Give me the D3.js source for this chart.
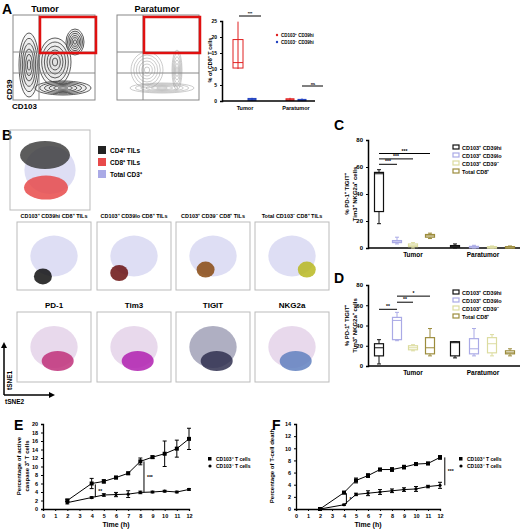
<!DOCTYPE html><html><head><meta charset="utf-8"><script src="https://cdn.jsdelivr.net/npm/d3@7"></script>
<style>body{margin:0;background:#fff}text{font-family:Arial,"Liberation Sans",sans-serif}</style></head><body><svg id="s" width="520" height="529"></svg>
<script>
const times=[2,4,5,6,7,8,9,10,11,12];
const eP=[2,6,6.5,7.4,8.4,11.2,12.2,13,14.2,16.5], eEP=[0.3,1.2,0.4,0.3,0.3,0.8,0.3,3,2,2.5];
const eN=[1.5,2.7,3.3,3.4,3.5,3.9,4,4.2,4,4.6], eEN=[0.3,0.2,0.3,0.5,0.8,0.3,0.2,0.2,0.2,0.2];
const fP=[0,2.7,4.7,5.5,6.5,6.5,6.9,7.4,7.5,8.5], fEP=[0,0.2,0.4,0.3,0.2,0.3,0.3,0.2,0.2,0.3];
const fN=[0,0.7,2.4,2.6,2.8,3,3.2,3.3,3.7,3.9], fEN=[0,0.1,0.2,0.4,0.4,0.3,0.3,0.4,0.2,0.5];
const groups=["Tumor","Paratumor"];
const boxSeries=["CD103⁺ CD39hi","CD103⁺ CD39lo","CD103⁺ CD39⁻","Total CD8⁺"];
const boxColors=["#111","#aaaae6","#dcdca0","#9c8c3c"];
// [min,q1,med,q3,max]
const cBox=[[18,27,55,56,58],[3,4,4.5,5.5,8],[0,1,2,3,4],[7,8,9,10,11],[0,0.5,1,1.8,3],[0,0.4,0.8,1.2,2],[0,0.3,0.6,1,1.5],[0,0.4,0.7,1,1.5]];
const dBox=[[2,10,18,22,26],[25,26,45,48,53],[15,16,18,20,21],[10,12,18,28,37],[8,10,23,24,24],[10,12,17,27,37],[10,13,22,28,31],[10,12,13,15,17]];
const aBox=[[10,10.3,12,19.2,24.8],[0,0.2,0.5,0.8,1],[0,0.2,0.4,0.7,1],[0,0.1,0.3,0.5,0.8]];
const aCols=["#e02020","#2040c0","#e02020","#2040c0"];
const svg=d3.select("#s");
svg.append("defs").html('<marker id="ar" viewBox="0 0 10 10" refX="5" refY="5" markerWidth="4" markerHeight="4" orient="auto"><path d="M0,0L10,5L0,10z"/></marker>');
const lab=(x,y,t)=>svg.append("text").attr("x",x).attr("y",y).attr("font-size",14).attr("font-weight","bold").text(t);
lab(2,14,"A");lab(2,140,"B");lab(334,130,"C");lab(334,283,"D");lab(14,430,"E");lab(272,430,"F");
function txt(x,y,t,fs,o={}){const e=svg.append("text").attr("x",x).attr("y",y).attr("font-size",fs).attr("font-weight",o.w||"bold").attr("text-anchor",o.a||"start").attr("fill",o.c||"#000").text(t);if(o.r)e.attr("transform",`rotate(-90,${x},${y})`);return e;}
// A flow plots
function flow(x0,dense){const g=svg.append("g");
 g.append("rect").attr("x",x0).attr("y",15).attr("width",82).attr("height",85).attr("fill","none").attr("stroke","#888");
 const cs=dense?[[x0+16,65,10,32],[x0+42,62,16,24],[x0+62,42,9,13],[x0+50,88,28,7]]:[[x0+30,70,16,18],[x0+45,88,32,5],[x0+60,70,5,20]];
 cs.forEach(c=>{for(let k=6;k>0;k--)g.append("ellipse").attr("cx",c[0]).attr("cy",c[1]).attr("rx",c[2]*k/6).attr("ry",c[3]*k/6).attr("fill",dense?"#ddd":"none").attr("fill-opacity",0.3).attr("stroke",dense?"#333":"#999").attr("stroke-width",dense?0.8:0.5);});
 g.append("line").attr("x1",x0+26).attr("x2",x0+26).attr("y1",15).attr("y2",100).attr("stroke","#888");
 g.append("line").attr("x1",x0).attr("x2",x0+82).attr("y1",52).attr("y2",52).attr("stroke","#888");
 g.append("line").attr("x1",x0).attr("x2",x0+82).attr("y1",73).attr("y2",73).attr("stroke","#888");
 g.append("rect").attr("x",x0+27).attr("y",17).attr("width",56).attr("height",36).attr("fill","none").attr("stroke","#e01010").attr("stroke-width",2.5);}
flow(13,true);flow(117,false);
txt(45,12,"Tumor",9,{a:"middle"});txt(157,12,"Paratumor",9,{a:"middle"});
txt(12,100,"CD39",8,{r:1});txt(12,109,"CD103",8);
// A box
{const y=d3.scaleLinear([0,25],[101,21]);const g=svg.append("g").attr("transform","translate(222,0)");
 g.call(d3.axisLeft(y).ticks(5).tickSize(2)).call(a=>a.selectAll("text").attr("font-size",5).attr("font-weight","bold")).call(a=>a.select(".domain").attr("stroke-width",1.5));
 const xs=[238,252,290,302];
 aBox.forEach((b,i)=>{const x=xs[i],w=i==0?10:8,c=aCols[i];
  svg.append("line").attr("x1",x).attr("x2",x).attr("y1",y(b[0])).attr("y2",y(b[4])).attr("stroke",c);
  svg.append("rect").attr("x",x-w/2).attr("y",y(b[3])).attr("width",w).attr("height",Math.max(1,y(b[1])-y(b[3]))).attr("fill","none").attr("stroke",c);
  svg.append("line").attr("x1",x-w/2).attr("x2",x+w/2).attr("y1",y(b[2])).attr("y2",y(b[2])).attr("stroke",c);});
 svg.append("line").attr("x1",222).attr("x2",315).attr("y1",101).attr("y2",101).attr("stroke","#000").attr("stroke-width",1.5);
 txt(245,110,"Tumor",5.5,{a:"middle"});txt(296,110,"Paratumor",5.5,{a:"middle"});
 svg.append("line").attr("x1",239).attr("x2",261).attr("y1",16).attr("y2",16).attr("stroke","#000");txt(250,15,"***",4,{a:"middle"});
 svg.append("line").attr("x1",302).attr("x2",323).attr("y1",86).attr("y2",86).attr("stroke","#000");txt(313,85,"ns",4,{a:"middle"});
 txt(212,60,"% of CD8⁺ T cells",5.5,{r:1,a:"middle"});
 svg.append("circle").attr("cx",277).attr("cy",35).attr("r",1.2).attr("fill","#e02020");txt(281,37,"CD103⁺ CD39hi",4.5);
 svg.append("circle").attr("cx",277).attr("cy",42).attr("r",1.2).attr("fill","#2040c0");txt(281,44,"CD103⁻ CD39hi",4.5);}
// B tSNE
function tsne(x0,y0,w,h,title,hl,tfs){svg.append("rect").attr("x",x0).attr("y",y0).attr("width",w).attr("height",h).attr("fill","none").attr("stroke","#bbb");
 if(title)txt(x0+w/2,y0-4,title,tfs||5.5,{a:"middle"});
 const cx=x0+w/2,cy=y0+h/2;
 svg.append("ellipse").attr("cx",cx).attr("cy",cy).attr("rx",w*0.32).attr("ry",h*0.3).attr("fill",hl.bg).attr("opacity",0.6);
 svg.append("ellipse").attr("cx",x0+w*hl.x).attr("cy",y0+h*hl.y).attr("rx",hl.rx).attr("ry",hl.ry).attr("fill",hl.c).attr("opacity",0.85);}
tsne(10,130,80,80,null,{bg:"#c8c8ec",x:0.45,y:0.72,rx:22,ry:12,c:"#e84a4a"});
svg.append("ellipse").attr("cx",45).attr("cy",155).attr("rx",25).attr("ry",14).attr("fill","#333").attr("opacity",0.8);
[["CD4⁺ TILs","#222"],["CD8⁺ TILs","#e84a4a"],["Total CD3⁺","#aaaae6"]].forEach((d,i)=>{svg.append("rect").attr("x",98).attr("y",146+i*12).attr("width",8).attr("height",8).attr("fill",d[1]);txt(110,153+i*12,d[0],6.5);});
const r2=[["CD103⁺ CD39hi CD8⁺ TILs","#111",0.35,0.8],["CD103⁺ CD39lo CD8⁺ TILs","#6a1010",0.3,0.75],["CD103⁺ CD39⁻ CD8⁺ TILs","#8a4a10",0.4,0.7],["Total CD103⁻ CD8⁺ TILs","#b8b820",0.7,0.7]];
const px=[17,97,176,255];
r2.forEach((d,i)=>tsne(px[i],222,74,68,d[0],{bg:"#c8c8ec",x:d[2],y:d[3],rx:9,ry:8,c:d[1]}));
const r3=[["PD-1","#c0307a"],["Tim3","#b020b0"],["TIGIT","#303050"],["NKG2a","#6080c0"]];
r3.forEach((d,i)=>tsne(px[i],312,74,70,d[0],{bg:i==2?"#7a7a9a":"#d8c0e0",x:0.55,y:0.7,rx:16,ry:10,c:d[1]},8));
svg.append("line").attr("x1",4).attr("x2",4).attr("y1",395).attr("y2",345).attr("stroke","#000").attr("stroke-width",1.5).attr("marker-end","url(#ar)");
svg.append("line").attr("x1",4).attr("x2",52).attr("y1",395).attr("y2",395).attr("stroke","#000").attr("stroke-width",1.5).attr("marker-end","url(#ar)");
txt(12,390,"tSNE1",6.5,{r:1});txt(5,404,"tSNE2",6.5);
// C, D
function boxPanel(data,y0,ymax,sig){const y=d3.scaleLinear([0,80],[y0,ymax]);
 const g=svg.append("g").attr("transform","translate(368,0)");
 g.call(d3.axisLeft(y).ticks(4).tickSize(2)).call(a=>a.selectAll("text").attr("font-size",6).attr("font-weight","bold")).call(a=>a.select(".domain").attr("stroke-width",1.5));
 svg.append("line").attr("x1",368).attr("x2",520).attr("y1",y0).attr("y2",y0).attr("stroke","#000").attr("stroke-width",1.5);
 const xs=[379,397,413,430,455,474,492,510];
 data.forEach((b,i)=>{const x=xs[i],c=boxColors[i%4],w=9;
  svg.append("line").attr("x1",x).attr("x2",x).attr("y1",y(b[0])).attr("y2",y(b[4])).attr("stroke",c);
  [b[0],b[4]].forEach(v=>svg.append("line").attr("x1",x-2).attr("x2",x+2).attr("y1",y(v)).attr("y2",y(v)).attr("stroke",c));
  svg.append("rect").attr("x",x-w/2).attr("y",y(b[3])).attr("width",w).attr("height",Math.max(1.5,y(b[1])-y(b[3]))).attr("fill","#fff").attr("stroke",c).attr("stroke-width",1.2);
  svg.append("line").attr("x1",x-w/2).attr("x2",x+w/2).attr("y1",y(b[2])).attr("y2",y(b[2])).attr("stroke",c);});
 txt(413,y0+9,"Tumor",6.5,{a:"middle"});txt(483,y0+9,"Paratumor",6.5,{a:"middle"});
 sig.forEach(s=>{const yy=y(s[2]);svg.append("line").attr("x1",xs[s[0]]).attr("x2",xs[s[1]]).attr("y1",yy).attr("y2",yy).attr("stroke","#000");txt((xs[s[0]]+xs[s[1]])/2,yy-1,s[3],5,{a:"middle"});});
 txt(349,(y0+ymax)/2,"% PD-1⁺ TIGIT⁺",6,{r:1,a:"middle"});txt(357,(y0+ymax)/2,"Tim3⁺ NKG2a⁺ cells",6,{r:1,a:"middle"});
 boxSeries.forEach((n,i)=>{svg.append("rect").attr("x",453).attr("y",ymax+5+i*8).attr("width",6).attr("height",4).attr("fill","none").attr("stroke",boxColors[i]).attr("stroke-width",1.2);txt(462,ymax+10+i*8,n,5.5);});}
boxPanel(cBox,248,140,[[0,1,62,"***"],[0,2,66,"***"],[0,3,70,"***"]]);
boxPanel(dBox,366,285,[[0,1,56,"**"],[1,2,63,"**"],[1,3,69,"*"]]);
// E, F
function linePanel(x0,x1,ymax,ticks,P,EP,N,EN,ylab,sig){const x=d3.scaleLinear([0,12],[x0,x1]),y=d3.scaleLinear([0,ymax],[509,424]);
 svg.append("g").attr("transform","translate(0,509)").call(d3.axisBottom(x).ticks(12).tickSize(2)).call(a=>a.selectAll("text").attr("font-size",5.5).attr("font-weight","bold")).call(a=>a.select(".domain").attr("stroke-width",1.3));
 svg.append("g").attr("transform",`translate(${x0},0)`).call(d3.axisLeft(y).tickValues(ticks).tickSize(2)).call(a=>a.selectAll("text").attr("font-size",5.5).attr("font-weight","bold")).call(a=>a.select(".domain").attr("stroke-width",1.3));
 const ln=d3.line().x((d,i)=>x(times[i])).y(d=>y(d));
 [[P,EP,"sq"],[N,EN,"ci"]].forEach(([v,e,m])=>{svg.append("path").attr("d",ln(v)).attr("fill","none").attr("stroke","#000").attr("stroke-width",1);
  v.forEach((d,i)=>{const xx=x(times[i]);if(e[i]>0){svg.append("line").attr("x1",xx).attr("x2",xx).attr("y1",y(d-e[i])).attr("y2",y(d+e[i])).attr("stroke","#000");[d-e[i],d+e[i]].forEach(q=>svg.append("line").attr("x1",xx-2).attr("x2",xx+2).attr("y1",y(q)).attr("y2",y(q)).attr("stroke","#000"));}
   if(m=="sq")svg.append("rect").attr("x",xx-2).attr("y",y(d)-2).attr("width",4).attr("height",4);else svg.append("circle").attr("cx",xx).attr("cy",y(d)).attr("r",1.6);});});
 sig.forEach(s=>{svg.append("line").attr("x1",x(s[0])).attr("x2",x(s[0])).attr("y1",y(s[1])).attr("y2",y(s[2])).attr("stroke","#000");txt(x(s[0])+3,(y(s[1])+y(s[2]))/2+2,s[3],5);});
 txt((x0+x1)/2,527,"Time (h)",7,{a:"middle"});
 ylab.forEach((t,i)=>txt(x0-22+i*8,466,t,6,{r:1,a:"middle"}));
 svg.append("rect").attr("x",x1+19).attr("y",457).attr("width",3.5).attr("height",3.5);txt(x1+27,461,"CD103⁺ T cells",5);
 svg.append("circle").attr("cx",x1+21).attr("cy",466).attr("r",1.6);txt(x1+27,468,"CD103⁻ T cells",5);}
linePanel(43,189,20,d3.range(0,21,2),eP,eEP,eN,eEN,["Percentage of active","caspase 3⁺ T cells"],[[4.3,2.8,5.8,"**"],[8.3,3.9,11.2,"***"]]);
linePanel(296,440,14,d3.range(0,15,2),fP,fEP,fN,fEN,["Percentage of T-cell death"],[[4.2,0.8,2.6,"*"],[12.4,3.9,8.5,"***"]]);
</script></body></html>
